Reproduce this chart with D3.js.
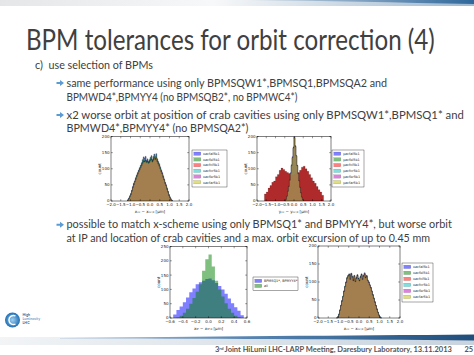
<!DOCTYPE html>
<html><head><meta charset="utf-8">
<script src="https://cdn.jsdelivr.net/npm/d3@7"></script>
<style>html,body{margin:0;padding:0;background:#fff;}svg{display:block}</style>
</head><body>
<svg id="slide" width="474" height="355"></svg>
<script>
// ---------------- DATA ----------------
const titleText = "BPM tolerances for orbit correction (4)";
const subHeading = ["c)", "use selection of BPMs"];
const bulletLines = [
  ["same performance using only BPMSQW1*,BPMSQ1,BPMSQA2 and", "BPMWD4*,BPMYY4 (no BPMSQB2*, no BPMWC4*)"],
  ["x2 worse orbit at position of crab cavities using only BPMSQW1*,BPMSQ1* and", "BPMWD4*,BPMYY4* (no BPMSQA2*)"],
  ["possible to match x-scheme using only BPMSQ1* and BPMYY4*, but worse orbit", "at IP and location of crab cavities and a max. orbit excursion of up to 0.45 mm"]
];
const footerText = "Joint HiLumi LHC-LARP Meeting, Daresbury Laboratory, 13.11.2013";
const pageNumber = "25";

const xLegendLabels = ["xacfal5b1","xacfbl5b1","xacfcl5b1","xacfcr5b1","xacfbr5b1","xacfar5b1"];
const yLegendLabels = ["yacfal5b1","yacfbl5b1","yacfcl5b1","yacfcr5b1","yacfbr5b1","yacfar5b1"];
const ipLegendLabels = ["BPMSQ1*, BPMYY4*", "all"];

const ccTicksX = [-2.0,-1.5,-1.0,-0.5,0.0,0.5,1.0,1.5,2.0];
const ccTicksY = [0,50,100,150,200];
const ipTicksX = [-0.6,-0.4,-0.2,0.0,0.2,0.4,0.6];
const ipTicksY = [0,50,100,150,200,250];

// chart 1 : x at crab cavities (bins of 0.05 starting at -1.15)
const c1Start = -1.15, c1Width = 0.05;
const c1Blue    = [4,9,16,24,34,46,56,63,73,81,89,96,104,111,119,129,137,133,139,126,131,123,129,136,141,129,139,146,139,147,131,123,116,106,97,89,79,69,59,51,41,31,21,13,7,3];
const c1Green   = [3,8,15,22,33,44,55,62,71,80,87,95,102,110,117,127,135,131,137,124,129,121,127,134,139,127,137,144,137,145,129,121,114,104,95,87,77,67,57,49,39,29,19,11,5,1];
const c1Red     = [2,7,13,20,30,41,51,59,68,76,84,91,98,104,111,117,123,121,125,119,122,117,120,125,129,121,127,133,129,133,123,115,109,100,92,84,74,65,55,47,37,27,17,9,3,1];
const c1Cyan    = [5,10,17,24,33,43,53,61,70,78,86,93,100,106,113,119,125,123,127,121,124,119,122,127,131,123,129,135,131,135,125,117,111,102,94,86,76,67,57,49,40,30,20,13,7,3];
const c1Magenta = [2,7,12,20,30,40,51,58,68,75,84,90,98,103,111,116,123,120,125,118,122,116,120,124,129,120,127,132,129,132,123,114,109,99,92,83,74,64,55,46,37,26,17,9,3,1];
const c1Yellow  = [2,6,13,19,30,41,50,59,67,76,83,91,97,104,110,117,122,121,124,119,121,117,119,125,128,121,126,133,128,133,122,115,108,100,91,84,73,65,54,47,36,27,16,9,3,1];

// chart 2 : y at crab cavities
const c2RedStart = -1.6, c2RedWidth = 0.1;
const c2Red = [22,28,40,48,58,62,75,82,95,102,98,92,88,85,82,80,82,85,88,95,105,108,100,92,82,72,62,55,45,35,28,18];
const c2Start = -0.5, c2Width = 0.05;
const c2Blue    = [2,6,16,31,47,67,88,113,138,168,200,172,142,112,87,64,44,27,13,5];
const c2Green   = [1,5,15,30,45,65,86,110,135,165,198,170,140,110,85,62,42,25,12,4];
const c2Cyan    = [1,5,14,29,44,64,85,109,134,164,196,169,139,109,84,61,41,25,12,4];
const c2Magenta = [1,4,14,29,45,65,85,110,134,165,197,170,139,110,85,62,42,24,11,4];
const c2Yellow  = [1,5,15,30,45,64,86,110,135,164,197,169,140,109,85,62,42,25,12,4];

// chart 3 : x at IP
const c3Start = -0.55, c3Width = 0.05;
const c3Subset = [12,28,40,55,72,90,103,118,125,130,136,138,132,122,112,100,85,68,52,38,25,10];
const c3All    = [0,2,8,18,32,50,70,92,118,165,205,222,180,130,100,75,52,32,18,8,3,0];

// chart 4 : x at crab cavities (selected BPMs)
const c4Start = -1.1, c4Width = 0.05;
const c4Blue    = [1,4,11,23,36,49,61,76,89,101,113,119,123,109,125,116,106,119,103,113,121,111,105,116,123,109,119,126,113,119,106,101,93,86,76,66,56,46,36,26,17,9,4,1];
const c4Green   = [0,3,10,22,35,48,60,75,88,100,112,118,122,108,124,115,105,118,102,112,120,110,104,115,122,108,118,125,112,118,105,100,92,85,75,65,55,45,35,25,16,8,3,0];
const c4Red     = [0,2,9,21,34,47,59,74,87,99,110,116,120,107,121,113,104,116,101,110,118,108,103,113,120,107,116,122,111,116,104,99,91,84,74,64,54,44,34,24,15,7,2,0];
const c4Cyan    = [1,5,12,23,36,49,61,75,89,100,112,118,121,108,123,114,105,117,102,111,119,109,104,114,121,108,117,124,112,117,105,100,92,85,75,65,55,45,35,26,17,9,4,1];
const c4Magenta = [0,2,9,21,33,47,58,74,86,99,110,115,120,106,121,112,104,116,100,110,118,108,102,113,120,106,116,122,110,116,103,99,90,84,73,64,53,44,33,24,15,7,2,0];
const c4Yellow  = [0,3,9,21,34,46,59,73,87,98,110,116,119,107,120,113,103,115,101,109,117,108,103,112,119,107,115,121,111,115,104,98,91,83,74,63,54,43,34,23,15,7,2,0];

// ---------------- DRAW ----------------
const svg = d3.select("#slide");
const defs = svg.append("defs");
const txt = "#404040";
const mainFont = "Lato, 'Open Sans', sans-serif";
const plotFont = "'DejaVu Sans', sans-serif";
const C = {b:"#0000ff", g:"#008000", r:"#ff0000", c:"#00bfbf", m:"#bf00bf", y:"#bfbf00"};

// top banner
const tg = defs.append("linearGradient").attr("id","topg").attr("x1",0).attr("x2",1);
tg.append("stop").attr("offset",0).attr("stop-color","#e4e6e8");
tg.append("stop").attr("offset",0.45).attr("stop-color","#f7f8f9");
tg.append("stop").attr("offset",1).attr("stop-color","#9fb8cf");
svg.append("rect").attr("x",0).attr("y",0).attr("width",474).attr("height",6).attr("fill","url(#topg)");
const tb = defs.append("linearGradient").attr("id","topb").attr("x1",0).attr("x2",1);
tb.append("stop").attr("offset",0).attr("stop-color","#cfdbe6");
tb.append("stop").attr("offset",1).attr("stop-color","#2f679b");
svg.append("path").attr("d","M250,0 L474,0 L474,4 C400,2.5 320,1 250,0 Z").attr("fill","url(#topb)");

// fitted text: measure natural width, then scale horizontally to the target width
function fitText(x, y, size, width, str, extra){
  const t = svg.append("text").attr("x",0).attr("y",0).attr("font-family",mainFont).attr("font-size",size)
    .attr("fill",txt).text(str);
  if(extra) extra(t);
  const w = t.node().getComputedTextLength();
  t.attr("transform",`translate(${x},${y}) scale(${width/w},1)`);
  return t;
}

// title
fitText(26, 50, 28, 409, titleText);

// sub heading
svg.append("text").attr("x",35).attr("y",69).attr("font-family",mainFont).attr("font-size",11).attr("fill",txt).text(subHeading[0]);
fitText(48.5, 69, 11, 104.5, subHeading[1]);

// bullets
const bulletBase = [[86.5,101.3],[118.5,131.5],[228.3,241.6]];
const bulletLen = [[321,231],[398,182],[386,364]];
function arrow(yc){
  svg.append("path").attr("d",`M56.5,${yc-1} L60,${yc-1} L60,${yc-3} L64,${yc} L60,${yc+3} L60,${yc+1} L56.5,${yc+1} Z`)
    .attr("fill","#5b9bd5");
}
bulletLines.forEach((lines,i)=>{
  arrow(bulletBase[i][0]-3.6);
  lines.forEach((l,j)=> fitText(66.5, bulletBase[i][j], 11, bulletLen[i][j], l));
});

// histogram drawing
function hist(cfg){
  const g = svg.append("g");
  const x = d3.scaleLinear().domain(cfg.xDomain).range([cfg.left,cfg.right]);
  const y = d3.scaleLinear().domain(cfg.yDomain).range([cfg.bottom,cfg.top]);
  g.append("rect").attr("x",cfg.left).attr("y",cfg.top).attr("width",cfg.right-cfg.left).attr("height",cfg.bottom-cfg.top).attr("fill","#fff");
  cfg.series.forEach(s=>{
    const pts = [{e:s.start,v:0}]
      .concat(s.values.map((v,i)=>({e:s.start+i*s.width,v:v})))
      .concat([{e:s.start+s.values.length*s.width,v:0}]);
    const area = d3.area().x(d=>x(d.e)).y0(y(0)).y1(d=>y(d.v)).curve(d3.curveStepAfter);
    g.append("path").attr("d",area(pts)).attr("fill",s.fill).attr("fill-opacity",s.opacity);
    if(cfg.outline){
      const line = d3.line().x(d=>x(d.e)).y(d=>y(d.v)).curve(d3.curveStepAfter);
      g.append("path").attr("d",line(pts)).attr("fill","none").attr("stroke","#000")
        .attr("stroke-opacity",0.3).attr("stroke-width",0.5);
    }
  });
  g.append("rect").attr("x",cfg.left).attr("y",cfg.top).attr("width",cfg.right-cfg.left).attr("height",cfg.bottom-cfg.top)
    .attr("fill","none").attr("stroke","#000").attr("stroke-width",0.5);
  const fmt = d3.format(".1f");
  cfg.xTicks.forEach(t=>{
    const xx = x(t);
    g.append("line").attr("x1",xx).attr("x2",xx).attr("y1",cfg.bottom).attr("y2",cfg.bottom-1.8).attr("stroke","#000").attr("stroke-width",0.4);
    g.append("line").attr("x1",xx).attr("x2",xx).attr("y1",cfg.top).attr("y2",cfg.top+1.8).attr("stroke","#000").attr("stroke-width",0.4);
    g.append("text").attr("x",xx).attr("y",cfg.bottom+5).attr("text-anchor","middle").attr("font-family",plotFont)
      .attr("font-size",cfg.tickSize).attr("fill","#222").text(fmt(t).replace("-","\u2212"));
  });
  cfg.yTicks.forEach(t=>{
    const yy = y(t);
    g.append("line").attr("x1",cfg.left).attr("x2",cfg.left+1.8).attr("y1",yy).attr("y2",yy).attr("stroke","#000").attr("stroke-width",0.4);
    g.append("line").attr("x1",cfg.right).attr("x2",cfg.right-1.8).attr("y1",yy).attr("y2",yy).attr("stroke","#000").attr("stroke-width",0.4);
    g.append("text").attr("x",cfg.left-1.5).attr("y",yy+1.4).attr("text-anchor","end").attr("font-family",plotFont)
      .attr("font-size",cfg.tickSize).attr("fill","#222").text(t);
  });
  // axis labels
  g.append("text").attr("transform",`translate(${cfg.left-cfg.yLabelOff},${(cfg.top+cfg.bottom)/2}) rotate(-90)`)
    .attr("text-anchor","middle").attr("font-family",plotFont).attr("font-size",4).attr("fill","#222").text("count");
  const xl = g.append("text").attr("x",(cfg.left+cfg.right)/2).attr("y",cfg.bottom+11.5).attr("text-anchor","middle")
    .attr("font-family",plotFont).attr("font-size",4).attr("fill","#222");
  xl.append("tspan").text(cfg.xVar);
  xl.append("tspan").attr("font-size",2.8).attr("dy",0.8).text(cfg.xSub);
  xl.append("tspan").attr("dy",-0.8).text(" \u2212 " + cfg.xVar);
  xl.append("tspan").attr("font-size",2.8).attr("dy",0.8).text(cfg.xSub+",0");
  xl.append("tspan").attr("dy",-0.8).text(" [\u03bcm]");
  // legend
  const L = cfg.legend;
  const lg = g.append("g");
  lg.append("rect").attr("x",L.x).attr("y",L.y).attr("width",L.w).attr("height",L.h).attr("fill","#fff")
    .attr("stroke","#000").attr("stroke-width",0.35);
  L.items.forEach((it,i)=>{
    const yy = L.y + L.pad + i*L.step;
    lg.append("rect").attr("x",L.x+1.8).attr("y",yy).attr("width",7).attr("height",3.4).attr("fill",it.color)
      .attr("fill-opacity",0.5).attr("stroke","#000").attr("stroke-opacity",0.35).attr("stroke-width",0.3);
    lg.append("text").attr("x",L.x+11).attr("y",yy+3).attr("font-family",plotFont).attr("font-size",3.4)
      .attr("fill","#222").text(it.label);
  });
}

const colorList = [C.b,C.g,C.r,C.c,C.m,C.y];
const ccSeries = (arr,start,width)=>arr.map((a,i)=>({values:a, start:start, width:width, fill:colorList[i], opacity:0.5}));

// chart 1
hist({left:111,right:189,top:136.5,bottom:201,xDomain:[-2,2],yDomain:[0,200],xTicks:ccTicksX,yTicks:ccTicksY,
  tickSize:4,yLabelOff:10,outline:true,xVar:"x",xSub:"cc",
  series:ccSeries([c1Blue,c1Green,c1Red,c1Cyan,c1Magenta,c1Yellow],c1Start,c1Width),
  legend:{x:192,y:150,w:35,h:37,pad:2,step:5.7,items:xLegendLabels.map((l,i)=>({label:l,color:colorList[i]}))}});

// chart 2
hist({left:257,right:331,top:136.5,bottom:201,xDomain:[-2,2],yDomain:[0,200],xTicks:ccTicksX,yTicks:ccTicksY,
  tickSize:4,yLabelOff:10,outline:true,xVar:"y",xSub:"cc",
  series:[
    {values:c2Blue,start:c2Start,width:c2Width,fill:C.b,opacity:0.5},
    {values:c2Green,start:c2Start,width:c2Width,fill:C.g,opacity:0.5},
    {values:c2Red,start:c2RedStart,width:c2RedWidth,fill:"#a81818",opacity:0.92},
    {values:c2Cyan,start:c2Start,width:c2Width,fill:C.c,opacity:0.5},
    {values:c2Magenta,start:c2Start,width:c2Width,fill:C.m,opacity:0.5},
    {values:c2Yellow,start:c2Start,width:c2Width,fill:C.y,opacity:0.5}],
  legend:{x:332,y:150,w:32,h:37,pad:2,step:5.7,items:yLegendLabels.map((l,i)=>({label:l,color:colorList[i]}))}});

// chart 3
hist({left:170,right:247,top:246.5,bottom:318,xDomain:[-0.6,0.6],yDomain:[0,250],xTicks:ipTicksX,yTicks:ipTicksY,
  tickSize:4,yLabelOff:10,outline:false,xVar:"x",xSub:"IP",
  series:[
    {values:c3Subset,start:c3Start,width:c3Width,fill:C.b,opacity:0.5},
    {values:c3All,start:c3Start,width:c3Width,fill:C.g,opacity:0.5}],
  legend:{x:253,y:277,w:45,h:13.5,pad:2.2,step:5,items:ipLegendLabels.map((l,i)=>({label:l,color:[C.b,C.g][i]}))}});

// chart 4
hist({left:318,right:400,top:246,bottom:318,xDomain:[-2,2],yDomain:[0,200],xTicks:ccTicksX,yTicks:ccTicksY,
  tickSize:4,yLabelOff:10,outline:true,xVar:"x",xSub:"cc",
  series:ccSeries([c4Blue,c4Green,c4Red,c4Cyan,c4Magenta,c4Yellow],c4Start,c4Width),
  legend:{x:402,y:263,w:31,h:39,pad:2.2,step:6,items:xLegendLabels.map((l,i)=>({label:l,color:colorList[i]}))}});

// bottom banner
const bg = defs.append("linearGradient").attr("id","botg").attr("x1",0).attr("x2",1);
bg.append("stop").attr("offset",0).attr("stop-color","#f2f4f6");
bg.append("stop").attr("offset",1).attr("stop-color","#c7d3de");
svg.append("rect").attr("x",0).attr("y",337).attr("width",474).attr("height",8).attr("fill","url(#botg)");
const bs = defs.append("linearGradient").attr("id","bots").attr("x1",0).attr("x2",1);
bs.append("stop").attr("offset",0).attr("stop-color","#b9cde0");
bs.append("stop").attr("offset",0.4).attr("stop-color","#5d8ab5");
bs.append("stop").attr("offset",1).attr("stop-color","#1f4e7d");
svg.append("path").attr("d","M60,338 C200,336.5 350,335.5 474,334.5 L474,340.5 C350,339.5 200,339 60,338.6 Z").attr("fill","url(#bots)");

// logo
const lgd = defs.append("radialGradient").attr("id","logo");
lgd.append("stop").attr("offset",0).attr("stop-color","#9fd0f0");
lgd.append("stop").attr("offset",1).attr("stop-color","#1f6fb5");
svg.append("circle").attr("cx",12.5).attr("cy",320).attr("r",7.5).attr("fill","url(#logo)");
svg.append("path").attr("d","M15.5,316 A4.5,4.5 0 1 0 15.5,324").attr("fill","none").attr("stroke","#fff").attr("stroke-width",1.4);
["High","Luminosity","LHC"].forEach((t,i)=>{
  svg.append("text").attr("x",22.5).attr("y",316+i*4).attr("font-family",mainFont).attr("font-size",3.6)
    .attr("fill",i===1?"#6a9fd0":"#2a5f94").attr("font-weight","bold").text(t);
});

// footer
const ft = svg.append("text").attr("x",215).attr("y",352).attr("font-family",mainFont).attr("font-size",7.5)
  .attr("font-weight","bold").attr("fill","#555");
ft.append("tspan").text("3");
ft.append("tspan").attr("font-size",4.5).attr("dy",-2.5).text("rd");
ft.append("tspan").attr("dy",2.5).attr("dx",1).text(footerText);
svg.append("text").attr("x",464.5).attr("y",352).attr("font-family",mainFont).attr("font-size",7.5)
  .attr("font-weight","bold").attr("fill","#555").text(pageNumber);
</script>
</body></html>
